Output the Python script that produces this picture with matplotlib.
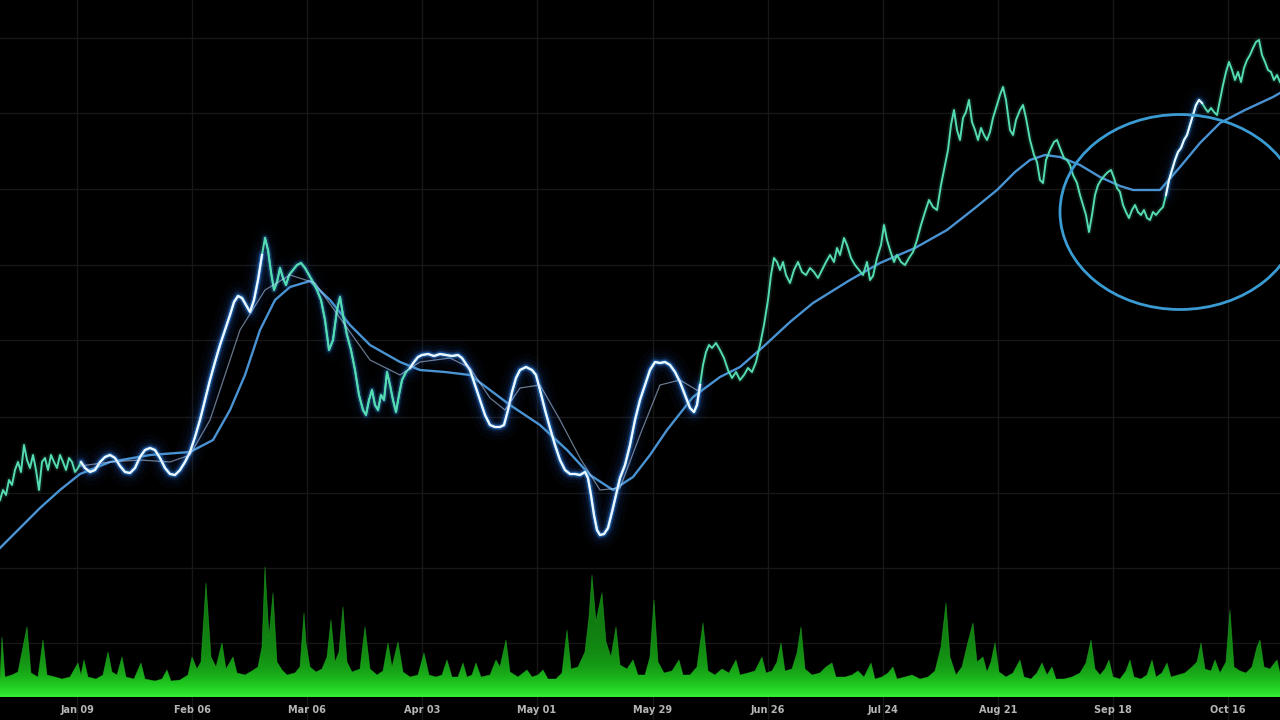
import numpy as np
import matplotlib.pyplot as plt
from matplotlib.patches import Ellipse
from matplotlib.colors import LinearSegmentedColormap

# price path (trading day, price)
day = [0.0, 0.3, 0.6, 0.9, 1.2, 1.5, 1.8, 2.1, 2.4, 2.7, 3.0, 3.3, 3.6, 3.9, 4.2, 4.5, 4.8, 5.1, 5.4, 5.7,
       6.0, 6.3, 6.6, 6.9, 7.2, 7.5, 7.8,
       8.1, 8.5, 9.0, 9.5, 10.0, 10.5, 11.0, 11.5, 12.0, 12.5, 13.0, 13.5, 14.0, 14.5, 15.0, 15.5, 16.0,
       16.5, 17.0, 17.5, 18.0, 18.5, 19.0,
       19.5, 20.0, 20.5, 21.0, 21.5, 22.0, 22.5, 23.0, 23.4, 23.8, 24.2, 24.6, 25.0, 25.4, 25.8, 26.2,
       26.5, 26.8, 27.1, 27.4, 27.7, 28.0, 28.3, 28.6, 28.9, 29.3, 29.7, 30.1, 30.5, 30.9, 31.3, 31.7,
       32.1, 32.5, 32.9, 33.3, 33.7, 34.0, 34.3, 34.7, 35.1, 35.5, 35.9, 36.3, 36.6, 36.9, 37.2, 37.5,
       37.8, 38.1, 38.4, 38.7, 39.0, 39.3, 39.6, 39.9, 40.2, 40.6, 41.0,
       41.4, 41.8, 42.2, 42.8, 43.4, 44.0, 44.6, 45.2, 45.8, 46.2, 46.6, 47.0, 47.5, 48.0, 48.5, 49.0,
       49.5, 50.0, 50.4, 50.8, 51.2, 51.6, 52.0, 52.6, 53.2, 53.6, 54.0, 54.5, 55.0, 55.5, 56.0, 56.5,
       57.0, 57.5, 58.0, 58.5, 58.8, 59.1, 59.4, 59.7, 60.0, 60.4, 60.8, 61.2, 61.6, 62.0, 62.5, 63.0,
       63.5, 64.0, 64.5, 65.0, 65.5, 66.0, 66.5, 67.0, 67.5, 68.0, 68.5, 69.0, 69.4, 69.7, 70.0, 70.3,
       70.6, 70.9, 71.2, 71.6,
       72.0, 72.4, 72.8, 73.2, 73.6, 74.0, 74.4, 74.8, 75.2, 75.6, 76.0, 76.4, 76.8, 77.1, 77.4, 77.7,
       78.0, 78.3, 78.6, 79.0, 79.4, 79.8, 80.2, 80.6, 81.0, 81.4, 81.8, 82.2, 82.6, 83.0, 83.4, 83.7,
       84.0, 84.4, 84.7, 85.1, 85.5, 85.9, 86.3, 86.7, 87.0, 87.3, 87.7, 88.1, 88.4, 88.7, 89.0, 89.4,
       89.7, 90.1, 90.5, 90.9, 91.3, 91.7, 92.1, 92.5, 92.9, 93.3, 93.7, 94.1, 94.5, 94.8, 95.1, 95.4,
       95.7, 96.0, 96.3, 96.6, 96.9, 97.2, 97.5, 97.8, 98.1, 98.4, 98.7, 99.0, 99.3, 99.7, 100.0, 100.3,
       100.6, 101.0, 101.3, 101.6, 102.0, 102.3, 102.6, 103.0, 103.4, 103.7, 104.0, 104.3,
       104.6, 105.0, 105.4, 105.7, 106.0, 106.4, 106.7, 107.0, 107.3, 107.7, 108.0, 108.3, 108.6, 108.9,
       109.2, 109.5, 109.8, 110.1, 110.5, 110.8, 111.1, 111.4, 111.7, 112.0, 112.3, 112.6, 112.9, 113.2,
       113.5, 113.8, 114.1, 114.4, 114.7, 115.0, 115.3, 115.6, 116.0, 116.3, 116.6, 116.9, 117.2, 117.5,
       117.8, 118.1, 118.4, 118.7, 119.0, 119.3, 119.6, 119.9, 120.2, 120.5, 120.8, 121.1, 121.4, 121.7,
       122.0, 122.3, 122.6, 122.9, 123.2, 123.5, 123.8, 124.1, 124.4, 124.7, 125.0, 125.3, 125.6, 125.9,
       126.2, 126.5, 126.8, 127.1, 127.4, 127.7, 128.0]
price = [22.0, 23.0, 22.5, 24.0, 23.5, 25.0, 25.8, 24.8, 27.5, 26.0, 25.2, 26.5, 25.0, 23.0, 25.8, 26.2, 25.0, 26.5, 25.8, 25.2,
         26.5, 25.8, 25.0, 26.2, 25.8, 24.8, 25.2,
         25.8, 25.2, 24.8, 25.0, 25.8, 26.3, 26.5, 26.2, 25.4, 24.8, 24.7, 25.2, 26.3, 27.0, 27.2, 27.0, 26.2,
         25.2, 24.6, 24.5, 25.0, 25.8, 26.8,
         28.3, 30.0, 32.0, 34.0, 35.8, 37.5, 39.0, 40.5, 41.8, 42.4, 42.2, 41.5, 40.8, 42.0, 44.0, 46.5,
         48.2, 47.0, 44.8, 43.0, 43.8, 45.2, 44.2, 43.5, 44.5, 45.0, 45.5, 45.7, 45.2, 44.5, 43.8, 43.0,
         42.0, 40.0, 37.0, 38.0, 41.0, 42.3, 40.5, 38.5, 37.0, 35.0, 32.5, 31.0, 30.5, 32.0, 33.0, 31.5,
         31.0, 32.5, 32.0, 34.8, 33.5, 32.0, 30.8, 32.5, 34.0, 34.8, 35.2,
         35.8, 36.3, 36.5, 36.6, 36.4, 36.6, 36.5, 36.4, 36.5, 36.2, 35.6, 35.0, 33.5, 32.0, 30.5, 29.5,
         29.3, 29.3, 29.5, 31.0, 32.8, 34.2, 35.0, 35.3, 35.0, 34.5, 33.0, 31.0, 29.2, 27.5, 26.0, 25.0,
         24.6, 24.6, 24.5, 24.8, 24.2, 22.5, 20.5, 19.0, 18.5, 18.6, 19.2, 20.8, 22.5, 24.2, 25.5, 27.5,
         30.0, 32.0, 33.5, 35.0, 35.8, 35.7, 35.8, 35.5, 34.8, 33.8, 32.5, 31.2, 30.8, 31.5, 33.5, 35.5,
         36.8, 37.5, 37.2, 37.7,
         37.0, 36.2, 35.0, 34.2, 34.8, 34.0, 34.5, 35.2, 34.8, 35.8, 37.5, 39.5, 42.0, 44.5, 46.2, 45.8,
         45.0, 45.8, 44.5, 43.7, 45.0, 45.8, 44.8, 44.5, 45.2, 44.8, 44.2, 45.0, 45.8, 46.5, 45.8, 47.2,
         46.5, 48.2, 47.5, 46.2, 45.5, 45.0, 44.5, 45.8, 44.0, 44.4, 46.2, 47.5, 49.5, 48.0, 47.0, 45.8,
         46.5, 45.8, 45.5, 46.2, 46.8, 48.0, 49.5, 50.8, 52.0, 51.3, 51.0, 53.5, 55.5, 57.0, 59.5, 61.0,
         59.0, 58.0, 60.2, 60.8, 62.0, 59.8, 59.0, 58.0, 59.2, 58.5, 58.0, 58.8, 60.2, 61.5, 62.5, 63.3,
         62.0, 59.0, 58.5, 60.0, 61.0, 61.5, 60.2, 58.0, 56.5, 55.8, 54.0, 53.7,
         56.0, 57.0, 57.8, 58.0, 57.2, 56.2, 56.0, 55.5, 54.5, 53.7, 52.5, 51.5, 50.5, 48.8,
         50.5, 52.5, 53.5, 54.0, 54.5, 54.8, 55.0, 54.2, 53.2, 52.8, 51.5, 50.8, 50.2, 51.0,
         51.5, 50.8, 50.5, 51.0, 50.2, 50.0, 50.8, 50.5, 51.0, 51.3, 52.5, 54.0, 55.0, 56.0,
         56.8, 57.2, 58.0, 58.5, 59.5, 60.5, 61.5, 62.0, 61.7, 61.2, 60.8, 61.2, 60.8, 60.5,
         62.0, 63.5, 64.8, 65.8, 65.0, 64.0, 64.8, 63.8, 65.2, 66.0, 66.5, 67.2, 67.8, 68.0,
         66.5, 65.8, 65.0, 64.8, 64.0, 64.5, 63.8]

# slow moving average
ma_day = [0, 2, 4, 6, 8, 11, 15, 19, 21.3, 23, 24.5, 26, 27.5, 29, 31, 33, 35, 37, 40, 42, 44.5, 47, 49,
          51, 54, 56.7, 59, 61.3, 63.3, 65, 66.7, 69.3, 72, 74, 76.3, 79, 81.3, 85, 88, 91.5, 94.7, 97.5,
          99.7, 101.5, 103, 104.5, 106, 108, 110, 112, 113.3, 116, 118, 120, 122, 124.5, 127.3, 128]
ma_slow = [17.2, 19.2, 21.2, 23.0, 24.6, 25.8, 26.5, 26.8, 28.0, 31.0, 34.5, 39.0, 42.0, 43.3, 43.9, 42.0,
           39.5, 37.5, 35.8, 35.0, 34.8, 34.5, 33.0, 31.5, 29.5, 27.0, 24.5, 23.0, 24.3, 26.5, 29.0, 32.3,
           34.3, 35.3, 37.3, 39.8, 41.7, 44.0, 45.7, 47.2, 49.0, 51.2, 53.0, 54.8, 56.0, 56.5, 56.3, 55.5,
           54.3, 53.4, 53.0, 53.0, 55.3, 57.7, 59.7, 61.0, 62.3, 62.7]

# fast moving average (only visible inside the highlighted stretches)
fast_day = [8, 11, 14, 17, 19, 21, 24, 26.5, 29, 31.5, 34, 37, 40, 42, 45, 47, 49, 50.5, 52, 54, 56, 58,
            60, 62, 64, 66, 68, 70]
ma_fast = [25.4, 25.8, 26.0, 25.8, 26.5, 30.0, 39.0, 43.0, 44.5, 43.7, 40.2, 36.0, 34.5, 35.8, 36.2, 35.2,
           32.2, 31.0, 33.2, 33.5, 30.0, 26.2, 23.0, 23.2, 28.5, 33.5, 34.0, 32.8]

# volume
vol_day = [0.0, 0.2, 0.5, 1.2, 1.8, 2.7, 3.1, 3.8, 4.3, 4.7, 5.5, 6.2, 7.0, 7.8, 8.1, 8.4, 8.8, 9.6, 10.3,
           10.8, 11.2, 11.7, 12.2, 12.6, 13.4, 14.1, 14.5, 15.5, 16.2, 16.7, 17.1, 18.0, 18.8, 19.2, 19.7,
           20.1, 20.6, 21.1, 21.6, 22.2, 22.6, 23.3, 23.7, 24.5, 25.2, 25.8, 26.2, 26.5, 26.9, 27.3, 27.7,
           28.2, 28.7, 29.5, 30.0, 30.4, 30.6, 31.0, 31.6, 32.2, 32.7, 33.1, 33.5, 33.9, 34.3, 34.7, 35.2,
           36.0, 36.5, 37.0, 37.7, 38.3, 38.8, 39.2, 39.8, 40.3, 41.0, 41.8, 42.4, 42.9, 43.6, 44.2, 44.7,
           45.2, 45.8, 46.3, 46.7, 47.2, 47.6, 48.1, 49.0, 49.6, 50.0, 50.6, 51.0, 51.8, 52.7, 53.2, 53.8,
           54.3, 54.8, 55.6, 56.2, 56.7, 57.1, 57.8, 58.5, 58.9, 59.2, 59.6, 59.9, 60.2, 60.6, 61.1, 61.6,
           62.0, 62.7, 63.3, 63.8, 64.5, 65.0, 65.4, 65.8, 66.4, 67.2, 67.9, 68.3, 69.0, 69.7, 70.3, 70.8,
           71.5, 72.2, 72.9, 73.6, 74.0, 74.8, 75.5, 76.2, 76.6, 77.2, 77.7, 78.1, 78.5, 79.2, 79.7, 80.1,
           80.5, 81.2, 82.0, 82.6, 83.2, 83.6, 84.5, 85.2, 85.8, 86.4, 87.1, 87.5, 88.2, 88.8, 89.3, 89.7,
           90.5, 91.2, 92.0, 92.8, 93.5, 94.1, 94.6, 95.0, 95.6, 96.2, 96.8, 97.3, 97.7, 98.3, 98.7, 99.1,
           99.5, 99.9, 100.6, 101.3, 102.0, 102.4, 103.1, 103.7, 104.2, 104.7, 105.2, 105.6, 106.4, 107.2,
           108.0, 108.6, 109.1, 109.5, 110.0, 110.5, 110.9, 111.3, 112.0, 112.6, 113.0, 113.4, 114.1, 114.7,
           115.2, 115.6, 116.2, 116.7, 117.1, 117.8, 118.5, 119.2, 119.7, 120.1, 120.5, 121.1, 121.5, 122.0,
           122.6, 123.0, 123.4, 124.0, 124.6, 125.2, 125.7, 126.0, 126.4, 127.0, 127.7, 128.0]
vol = [1.8, 6.0, 2.0, 2.2, 2.5, 7.0, 2.4, 2.0, 5.7, 2.2, 2.0, 1.8, 2.0, 3.4, 2.2, 3.7, 2.0, 1.8, 2.2,
       4.5, 2.5, 2.2, 4.0, 2.0, 1.8, 3.4, 1.8, 1.6, 1.8, 2.7, 1.6, 1.7, 2.2, 4.0, 2.8,
       3.5, 11.4, 4.0, 3.0, 5.4, 2.8, 4.0, 2.4, 2.2, 2.6, 3.0, 5.0, 13.0, 6.0, 10.4, 3.5,
       2.7, 2.2, 2.4, 3.0, 8.4, 5.4, 3.0, 2.5, 2.8, 4.0, 7.7, 3.5, 4.5, 9.0, 3.5, 2.5,
       2.8, 7.0, 2.8, 2.2, 2.6, 5.4, 3.0, 5.5, 2.5, 2.0, 2.2, 4.4, 2.2, 2.0, 2.2, 3.7,
       2.0, 2.0, 3.4, 2.0, 2.2, 3.4, 2.0, 2.2, 3.7, 3.0, 5.7, 2.5, 2.0, 2.7, 2.0, 2.2,
       2.7, 1.8, 1.8, 2.4, 6.7, 2.8, 3.0, 4.5, 8.0, 12.2, 7.5, 9.0, 10.4, 5.5, 4.0, 7.0,
       3.2, 2.8, 3.7, 2.2, 2.2, 4.0, 9.7, 3.5, 2.4, 2.6, 3.7, 2.2, 2.2, 3.0, 7.4, 2.6,
       2.2, 2.8, 2.4, 3.7, 2.2, 2.4, 2.6, 4.0, 2.4, 2.6, 3.5, 5.4, 2.6, 2.8, 4.4, 7.0,
       2.8, 2.2, 2.4, 3.0, 3.4, 2.0, 2.0, 2.2, 2.6, 2.0, 3.4, 1.8, 2.0, 2.4, 3.0, 1.8,
       2.0, 2.2, 1.8, 2.0, 2.6, 5.0, 9.4, 4.0, 2.2, 3.0, 5.5, 7.4, 3.5, 4.0, 2.5, 3.5,
       5.4, 2.5, 2.0, 2.4, 3.7, 2.0, 1.8, 2.4, 3.4, 2.2, 3.0, 1.8, 1.8, 2.0,
       2.4, 3.4, 5.7, 2.8, 2.2, 2.8, 3.7, 2.0, 1.8, 2.6, 3.7, 2.0, 1.8, 2.2,
       3.7, 2.0, 2.4, 3.4, 2.0, 2.2, 2.4, 3.0, 3.5, 5.4, 2.8, 2.6, 3.7, 2.4,
       3.5, 8.7, 3.0, 2.6, 2.4, 3.0, 5.0, 5.7, 3.0, 2.8, 3.7, 2.4]

tick_days = [7.7, 19.2, 30.7, 42.2, 53.7, 65.3, 76.8, 88.3, 99.8, 111.3, 122.8]
tick_labels = ["Jan 09", "Feb 06", "Mar 06", "Apr 03", "May 01", "May 29",
               "Jun 26", "Jul 24", "Aug 21", "Sep 18", "Oct 16"]
grid_prices = [7.7, 15.2, 22.7, 30.3, 38.0, 45.5, 53.1, 60.7, 68.2]
highlight = [(8.0, 26.3), (40.8, 70.2)]

day = np.array(day)
price = np.array(price)

fig = plt.figure(figsize=(12.8, 7.2), dpi=100, facecolor='black')
ax = fig.add_axes([0, 0, 1, 1])
ax.set_facecolor('black')
ax.set_xlim(0, 128)
ax.set_ylim(0, 72)
for s in ax.spines.values():
    s.set_visible(False)
ax.set_xticks(tick_days)
ax.set_xticklabels(tick_labels, color='#b5b5b5', fontsize=7, fontweight='bold')
ax.set_yticks(grid_prices)
ax.set_yticklabels([])
ax.tick_params(axis='both', length=0)
ax.tick_params(axis='x', pad=-11)
ax.grid(True, color='#171717', lw=1.0)
ax.set_axisbelow(True)


def glow(x, y, halo, core, strength=1.0, core_lw=1.6):
    for lw, a in [(20, 0.03), (13, 0.055), (8, 0.1), (5, 0.2), (3, 0.4)]:
        ax.plot(x, y, color=halo, lw=lw, alpha=a * strength, solid_capstyle='round', zorder=3)
    ax.plot(x, y, color=core, lw=core_lw, zorder=5)


# slow MA
ax.plot(ma_day, ma_slow, color='#4a93d2', lw=1.7, zorder=4)

# teal price line everywhere
ax.plot(day, price, color='#55dcb2', lw=1.4, zorder=4)
ax.plot(day, price, color='#55dcb2', lw=4, alpha=0.12, zorder=3)

# glowing stretches
for lo, hi in highlight:
    m = (day >= lo) & (day <= hi)
    glow(day[m], price[m], '#2f7dff', '#eef6ff')
m = (day >= 26.3) & (day <= 40.8)
glow(day[m], price[m], '#2f7dff', '#55dcb2', strength=0.45, core_lw=1.3)
m = (day >= 116.4) & (day <= 120.2)
glow(day[m], price[m], '#2f7dff', '#eef6ff', strength=0.6, core_lw=1.4)

ax.plot(fast_day, ma_fast, color='#bcd8ff', lw=0.9, alpha=0.55, zorder=5)

# circled area
ax.add_patch(Ellipse((118, 50.8), 24, 19.5, fill=False, ec='#3b9bd3', lw=2, zorder=6))

# volume panel
axv = fig.add_axes([0, 23 / 720, 1, 180 / 720])
axv.set_xlim(0, 128)
axv.set_ylim(0, 18)
axv.axis('off')
axv.patch.set_alpha(0)
poly = axv.fill_between(vol_day, 0, vol, color='none', lw=0)
cmap = LinearSegmentedColormap.from_list('vol', ['#0b3f0b', '#128a12', '#1fc81f', '#35f035'])
h = np.linspace(14, 0, 280).reshape(-1, 1)
grad = np.clip(0.25 + 0.75 * np.exp(-h / 2.2), 0, 1)
im = axv.imshow(grad, extent=[0, 128, 0, 14], aspect='auto', cmap=cmap, vmin=0, vmax=1,
                origin='upper', zorder=2)
im.set_clip_path(poly.get_paths()[0], transform=axv.transData)
axv.plot(vol_day, vol, color='#28c028', lw=0.6, alpha=0.45, zorder=3)

fig.savefig('out.png', dpi=100, facecolor='black')
